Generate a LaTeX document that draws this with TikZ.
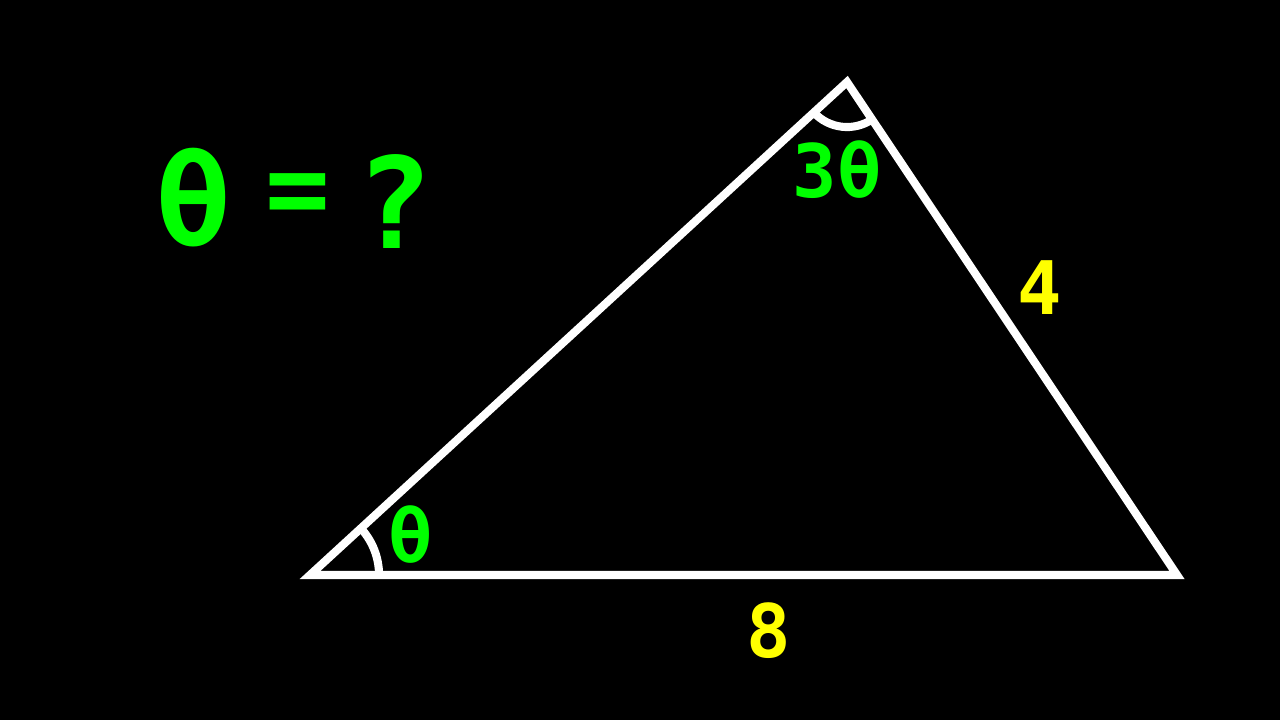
\documentclass[tikz,border=0pt]{standalone}
\usepackage{fontspec}
\setmonofont{DejaVu Sans Mono}
\usetikzlibrary{angles}
\definecolor{thgreen}{RGB}{0,255,0}
\definecolor{lenyellow}{RGB}{255,255,0}
\begin{document}
\begin{tikzpicture}[x=0.01cm,y=0.01cm,
	side/.style={draw=white,line width=2.3pt,line join=miter},
	mark angle/.style={draw=white,line width=2.3pt},
	anglabel/.style={text=thgreen,font=\ttfamily\bfseries\fontsize{21}{21}\selectfont,inner sep=0pt},
	lenlabel/.style={text=lenyellow,font=\ttfamily\bfseries\fontsize{21}{21}\selectfont,inner sep=0pt},
	asklabel/.style={text=thgreen,font=\ttfamily\bfseries\fontsize{36}{36}\selectfont,inner sep=0pt}]
	\fill[black] (0,0) rectangle (1280,720);
	\useasboundingbox (0,0) rectangle (1280,720);
	\foreach \N/\X/\Y in {A/310/145, B/1177/145, C/847/638}
	{\coordinate (\N) at (\X,\Y);}
	\draw[side] (A) -- (B) -- (C) -- cycle;
	\pic[mark angle,angle radius=0.69cm] {angle=B--A--C};
	\pic[mark angle,angle radius=0.45cm] {angle=A--C--B};
	\node[anglabel] (tA) at (411,185) {θ};
	\node[anglabel] (tC) at (837,550) {3θ};
	\node[lenlabel] (lBC) at (1040,432) {4};
	\node[lenlabel] (lAB) at (769,89) {8};
	\node[asklabel] (q1) at (194,522) {θ};
	\node[asklabel,scale=0.85] (q2) at (298,520) {=};
	\node[asklabel] (q3) at (395,518) {?};
\end{tikzpicture}
\end{document}
